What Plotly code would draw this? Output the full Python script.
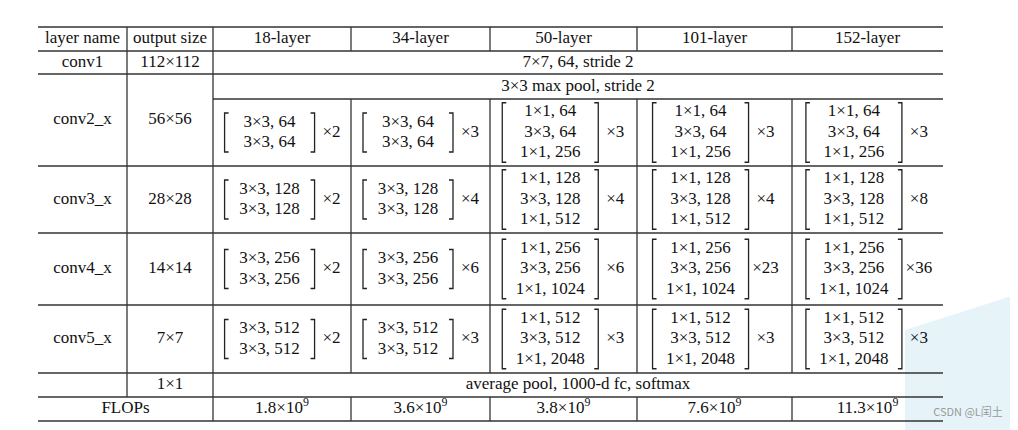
import plotly.graph_objects as go

# table content
headers = ["layer name", "output size", "18-layer", "34-layer", "50-layer", "101-layer", "152-layer"]
layer_names = ["conv2_x", "conv3_x", "conv4_x", "conv5_x"]
output_sizes = ["56×56", "28×28", "14×14", "7×7"]
conv1_text = "7×7, 64, stride 2"
pool_text = "3×3 max pool, stride 2"
final_text = "average pool, 1000-d fc, softmax"
basic = [["3×3, 64", "3×3, 64"], ["3×3, 128", "3×3, 128"], ["3×3, 256", "3×3, 256"], ["3×3, 512", "3×3, 512"]]
bottleneck = [["1×1, 64", "3×3, 64", "1×1, 256"], ["1×1, 128", "3×3, 128", "1×1, 512"],
              ["1×1, 256", "3×3, 256", "1×1, 1024"], ["1×1, 512", "3×3, 512", "1×1, 2048"]]
repeats = {"18-layer": [2, 2, 2, 2], "34-layer": [3, 4, 6, 3], "50-layer": [3, 4, 6, 3],
           "101-layer": [3, 4, 23, 3], "152-layer": [3, 8, 36, 3]}
flops = ["1.8×10<sup>9</sup>", "3.6×10<sup>9</sup>", "3.8×10<sup>9</sup>", "7.6×10<sup>9</sup>", "11.3×10<sup>9</sup>"]

# geometry (px)
col_edges = [38, 127, 213, 351, 490, 637, 792, 943]
row_edges = [27, 51, 74, 99, 166, 233, 305, 373, 397, 421]
FONT = "Liberation Serif"
FS = 17
OFF = 8  # page body margin

tx, ty, tt = [], [], []
def put(x, y, s):
    tx.append(x); ty.append(y); tt.append(s)

def cmid(i):
    return (col_edges[i] + col_edges[i + 1]) / 2
def rmid(j):
    return (row_edges[j] + row_edges[j + 1]) / 2

for i, h in enumerate(headers):
    put(cmid(i), rmid(0), h)
put(cmid(0), rmid(1), "conv1"); put(cmid(1), rmid(1), "112×112")
put((col_edges[2] + col_edges[-1]) / 2, rmid(1), conv1_text)
put((col_edges[2] + col_edges[-1]) / 2, rmid(2), pool_text)
for r in range(4):
    yc = (row_edges[2] + row_edges[4]) / 2 if r == 0 else rmid(r + 3)
    put(cmid(0), yc, layer_names[r]); put(cmid(1), yc, output_sizes[r])
put(cmid(1), rmid(7), "1×1")
put((col_edges[2] + col_edges[-1]) / 2, rmid(7), final_text)
put((col_edges[0] + col_edges[2]) / 2, rmid(8), "FLOPs")
for k, f in enumerate(flops):
    put(cmid(k + 2), rmid(8), f)

bx, by = [], []
LH = 20.5
for k, name in enumerate(headers[2:]):
    c = k + 2
    x0, x1 = col_edges[c], col_edges[c + 1]
    cx = x0 + (x1 - x0) * 0.41
    for r in range(4):
        lines = basic[r] if k < 2 else bottleneck[r]
        yc = rmid(r + 3)
        n = len(lines)
        for li, s in enumerate(lines):
            put(cx, yc + (li - (n - 1) / 2) * LH, s)
        half = 48 if k >= 2 else 45
        hh = n * LH / 2 - 1
        lx, rx = cx - half, cx + half
        bx += [lx + 4, lx, lx, lx + 4, None, rx - 4, rx, rx, rx - 4, None]
        by += [yc - hh, yc - hh, yc + hh, yc + hh, None, yc - hh, yc - hh, yc + hh, yc + hh, None]
        put(rx + 17, yc, "×" + str(repeats[name][r]))

# grid lines
lx_, ly_ = [], []
def seg(xa, ya, xb, yb):
    lx_.extend([xa, xb, None]); ly_.extend([ya, yb, None])
seg(col_edges[0], row_edges[0], col_edges[-1], row_edges[0])
seg(col_edges[0], row_edges[1], col_edges[-1], row_edges[1])
seg(col_edges[0], row_edges[2], col_edges[-1], row_edges[2])
seg(col_edges[2], row_edges[3], col_edges[-1], row_edges[3])
for j in range(4, 10):
    seg(col_edges[0], row_edges[j], col_edges[-1], row_edges[j])
seg(col_edges[1], row_edges[0], col_edges[1], row_edges[8])
seg(col_edges[2], row_edges[0], col_edges[2], row_edges[9])
for c in range(3, 7):
    seg(col_edges[c], row_edges[0], col_edges[c], row_edges[1])
    seg(col_edges[c], row_edges[3], col_edges[c], row_edges[7])
    seg(col_edges[c], row_edges[8], col_edges[c], row_edges[9])

fig = go.Figure()
fig.add_trace(go.Scatter(x=[905, 1030, 1030, 905], y=[330, 290, 440, 440], fill="toself", mode="lines",
                         line=dict(width=0), fillcolor="rgba(200,230,245,0.45)", hoverinfo="skip"))
fig.add_trace(go.Scatter(x=lx_, y=ly_, mode="lines", line=dict(color="#333", width=1.3), hoverinfo="skip"))
fig.add_trace(go.Scatter(x=bx, y=by, mode="lines", line=dict(color="#222", width=1.3), hoverinfo="skip"))
fig.add_trace(go.Scatter(x=tx, y=ty, mode="text", text=tt, textposition="middle center",
                         textfont=dict(family=FONT, size=FS, color="#111"), hoverinfo="skip"))
fig.add_trace(go.Scatter(x=[968], y=[413], mode="text", text=["CSDN @L闰土"],
                         textfont=dict(family="Noto Sans CJK SC", size=11, color="#999"), hoverinfo="skip"))
fig.update_layout(width=1018, height=430, margin=dict(l=0, r=0, t=0, b=0), showlegend=False,
                  plot_bgcolor="white", paper_bgcolor="white")
fig.update_xaxes(range=[OFF, 1018 + OFF], visible=False)
fig.update_yaxes(range=[430 + OFF, OFF], visible=False)
fig.write_html("out.html")
